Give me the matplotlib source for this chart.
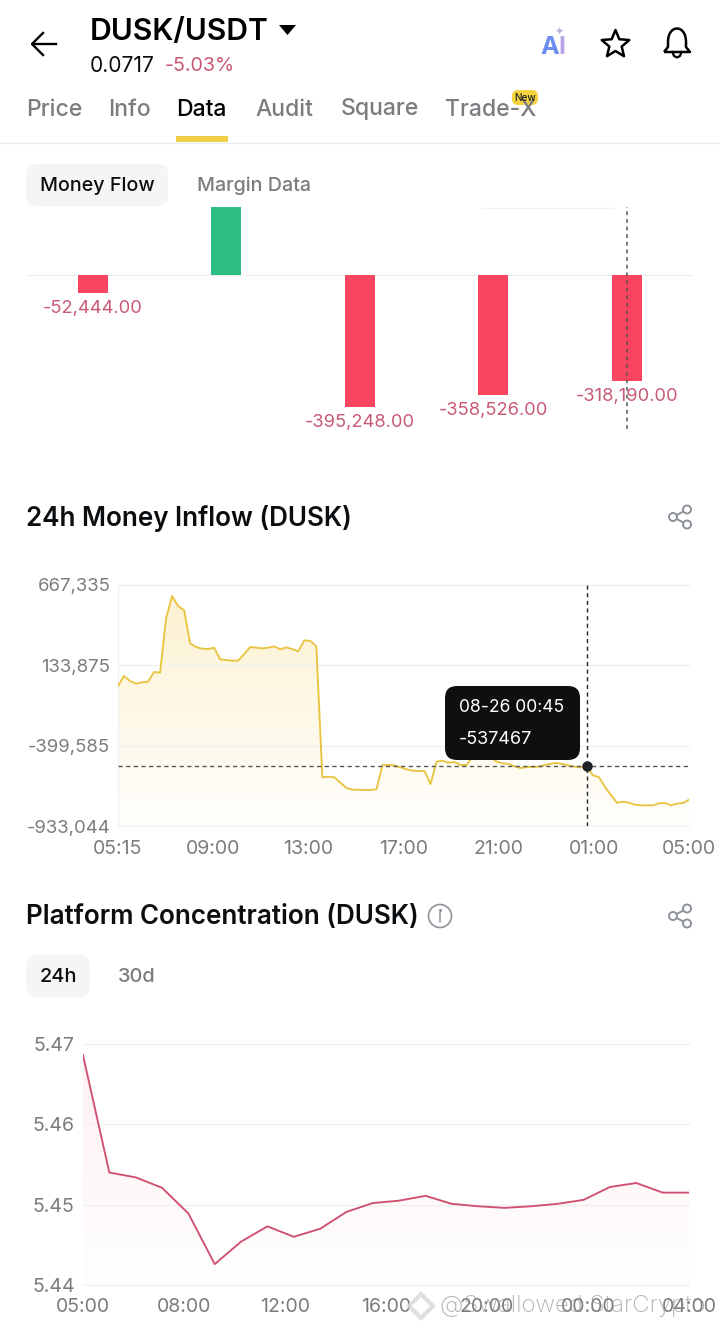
import matplotlib
matplotlib.use('Agg')
import numpy as np
import matplotlib.pyplot as plt
from matplotlib.patches import FancyBboxPatch, Circle, Polygon, PathPatch
from matplotlib.path import Path

plt.rcParams['font.family'] = ['Inter', 'DejaVu Sans']

W, H = 720, 1332

# money flow bars
flow_values = [-52444, 240000, -395248, -358526, -318190]
flow_labels = ['-52,444.00', None, '-395,248.00', '-358,526.00', '-318,190.00']

# 24h money inflow, thousands of DUSK, every 15 min
inflow_k = [
    -3.4, 63.0, 29.8, 12.1, 20.9, 25.4, 89.6, 85.1, 445.9, 594.2, 527.8, 499.1,
    279.9, 255.6, 244.5, 242.3, 251.2, 173.7, 169.3, 164.8, 164.8, 209.1, 255.6, 251.2,
    246.7, 251.2, 260.0, 240.1, 253.4, 242.3, 226.8, 299.9, 295.4, 260.0, -609.9, -605.5,
    -609.9, -645.3, -680.7, -691.8, -691.8, -694.0, -694.0, -689.6, -528.0, -528.0, -530.2, -543.5,
    -556.8, -565.6, -567.8, -567.8, -654.2, -505.9, -499.2, -512.5, -508.1, -528.0, -528.0, -472.7,
    -461.6, -461.6, -472.7, -505.9, -516.9, -521.4, -536.9, -547.9, -541.3, -541.3, -539.1, -528.0,
    -519.1, -514.7, -521.4, -532.4, -539.1, -543.5, -537.467, -596.6, -607.7, -671.9, -727.2, -778.1,
    -771.5, -778.1, -791.4, -795.8, -795.8, -795.8, -782.6, -780.3, -795.8, -784.8, -780.3, -758.2,
]
inflow_ticks = [667335, 133875, -399585, -933044]
inflow_ticklabels = ['667,335', '133,875', '-399,585', '-933,044']
inflow_xlabels = ['05:15', '09:00', '13:00', '17:00', '21:00', '01:00', '05:00']
selected_idx = 78

# platform concentration, hourly
conc_values = [
    5.4686, 5.4540, 5.4534, 5.4521, 5.4489, 5.4426, 5.4454, 5.4473, 5.4460, 5.4470, 5.4491, 5.4502,
    5.4505, 5.4511, 5.4501, 5.4498, 5.4496, 5.4498, 5.4501, 5.4506, 5.4522, 5.4527, 5.4515, 5.4515,
]
conc_ticks = [5.44, 5.45, 5.46, 5.47]
conc_xlabels = ['05:00', '08:00', '12:00', '16:00', '20:00', '00:00', '04:00']

GREY = '#7A7C80'
GRID = '#EFF0F2'
RED = '#F6465D'
LABEL_RED = '#C95A75'
YELLOW = '#E9C440'
INK = '#0B0E11'


def px(size):
    return size * 0.72


def axes_px(fig, left, top, right, bottom):
    return fig.add_axes([left / W, 1 - bottom / H, (right - left) / W, (bottom - top) / H])


def gradient_fill(ax, x, y, color, a_top, a_bottom):
    ymin, ymax = ax.get_ylim()
    rgba = np.zeros((256, 1, 4))
    rgba[:, 0, :3] = matplotlib.colors.to_rgb(color)
    rgba[:, 0, 3] = np.linspace(a_top, a_bottom, 256)
    im = ax.imshow(rgba, extent=[x[0], x[-1], ymin, ymax], origin='upper', aspect='auto', zorder=1)
    verts = [(x[0], ymin)] + list(zip(x, y)) + [(x[-1], ymin)]
    poly = Polygon(verts, closed=True, transform=ax.transData, fc='none', ec='none')
    ax.add_patch(poly)
    im.set_clip_path(poly)


fig = plt.figure(figsize=(W / 100, H / 100), dpi=100, facecolor='white')

# bars
ax1 = axes_px(fig, 26, 207, 693.5, 429)
ax1.axis('off')
ax1.set_xlim(-0.5, 4.5)
ax1.set_ylim(-460460, 203320)
flow_x = np.arange(len(flow_values))
flow_colors = ['#2EBD85' if v > 0 else '#F9455F' for v in flow_values]
ax1.axhline(0, color=GRID, lw=1, zorder=1)
ax1.bar(flow_x, flow_values, width=0.2247, color=flow_colors, zorder=2, clip_on=True)
ax1.axvline(4, color='#555555', lw=1.1, ls=(0, (2.5, 2.5)), zorder=3)
for i, lab in enumerate(flow_labels):
    if lab is None:
        continue
    ax1.annotate(lab, (i, flow_values[i]), xytext=(0, -15.5 * 0.72), textcoords='offset points',
                 ha='center', va='center', fontsize=px(18.3), color=LABEL_RED, zorder=4)

# inflow
inflow = np.array(inflow_k) * 1000
ax2 = axes_px(fig, 118, 585, 689, 826)
x2 = np.arange(len(inflow))
ax2.set_ylim(inflow_ticks[-1], inflow_ticks[0])
ax2.set_xlim(0, len(inflow) - 1)
gradient_fill(ax2, x2, inflow, '#F0B90B', 0.2, 0.015)
ax2.plot(x2, inflow, color=YELLOW, lw=1.35, zorder=3)
ax2.set_yticks(inflow_ticks, inflow_ticklabels)
ax2.set_xticks(np.linspace(0, len(inflow) - 1, 7), inflow_xlabels)
ax2.grid(axis='y', color=GRID, lw=1, zorder=0)
for line in ax2.get_ygridlines():
    line.set_clip_on(False)
ax2.tick_params(axis='both', length=0, labelcolor=GREY)
ax2.tick_params(axis='y', pad=5.5, labelsize=px(18.5))
ax2.tick_params(axis='x', pad=10, labelsize=px(19.5))
for side in ['top', 'right', 'bottom']:
    ax2.spines[side].set_visible(False)
ax2.spines['left'].set_color(GRID)
ax2.axvline(x2[selected_idx], color='#222222', lw=1, ls=(0, (3, 2.5)), zorder=4)
ax2.axhline(inflow[selected_idx], color='#555555', lw=1, ls=(0, (3, 2.5)), zorder=4)
ax2.plot(x2[selected_idx], inflow[selected_idx], 'o', ms=6.5, color='#1E2329', zorder=5)

# concentration
ax3 = axes_px(fig, 83, 1044, 689, 1285)
x3 = np.arange(len(conc_values))
ax3.set_ylim(conc_ticks[0], conc_ticks[-1])
ax3.set_xlim(0, len(conc_values) - 1)
gradient_fill(ax3, x3, conc_values, RED, 0.08, 0.008)
ax3.plot(x3, conc_values, color='#CF5070', lw=1.35, zorder=3)
ax3.set_yticks(conc_ticks, ['%.2f' % v for v in conc_ticks])
ax3.set_xticks(np.linspace(0, len(conc_values) - 1, 7), conc_xlabels)
ax3.grid(axis='y', color=GRID, lw=1, zorder=0)
for line in ax3.get_ygridlines():
    line.set_clip_on(False)
ax3.tick_params(axis='both', length=0, labelcolor=GREY, labelsize=px(19.5))
ax3.tick_params(axis='y', pad=6)
ax3.tick_params(axis='x', pad=9)
for side in ['top', 'right', 'bottom', 'left']:
    ax3.spines[side].set_visible(False)

# everything else sits on a pixel overlay
ui = fig.add_axes([0, 0, 1, 1], facecolor='none')
ui.set_xlim(0, W)
ui.set_ylim(H, 0)
ui.axis('off')


def label(x, y, s, size, color=INK, weight='normal', ha='left', **kw):
    # va center sits a bit high for this font
    ui.text(x, y + 4, s, fontsize=px(size), color=color, fontweight=weight, ha=ha, va='center', **kw)


def pill(x0, y0, x1, y1, color, r=10):
    ui.add_patch(FancyBboxPatch((x0 + r, y0 + r), x1 - x0 - 2 * r, y1 - y0 - 2 * r,
                                boxstyle='round,pad=%d,rounding_size=%d' % (r, r), fc=color, ec='none'))


def share_icon(cx, cy):
    pts = [(cx - 7, cy), (cx + 7, cy - 7.5), (cx + 7, cy + 7.5)]
    for p in pts[1:]:
        ui.plot([pts[0][0], p[0]], [pts[0][1], p[1]], color='#8E939B', lw=1.4)
    for p in pts:
        ui.add_patch(Circle(p, 4, fc='white', ec='#8E939B', lw=1.4, zorder=3))


# header
ui.plot([33, 56], [44, 44], color='black', lw=1.7)
ui.plot([43, 32, 43], [33, 44, 55], color='black', lw=1.7)
label(90, 28, 'DUSK/USDT', 30, color='black', weight='semibold')
ui.add_patch(Polygon([(279, 25), (296, 25), (287.5, 35)], fc='black', ec='none'))
label(90, 62, '0.0717', 21, color=INK)
label(165, 62, '-5.03%', 19.7, color=LABEL_RED)

label(540, 43, 'A', 25, color='#6E8CF0', weight='bold')
label(558, 43, 'I', 25, color='#B8A4E8', weight='bold')
ui.text(559, 32, '✦', fontsize=px(11), color='#C4B4DC', ha='center', va='center', family='DejaVu Sans')

ang = np.linspace(-np.pi / 2, 1.5 * np.pi, 11)[:-1]
rad = np.where(np.arange(10) % 2 == 0, 14.5, 6.5)
ui.add_patch(Polygon(np.c_[615.5 + rad * np.cos(ang), 44.5 + rad * np.sin(ang)], fc='white', ec='black',
                     lw=1.8, joinstyle='round'))

bell = Path([(664, 52), (668, 47), (668, 42), (668, 24), (686, 24), (686, 42), (686, 47), (690, 52), (664, 52)],
            [Path.MOVETO, Path.LINETO, Path.LINETO, Path.CURVE4, Path.CURVE4, Path.CURVE4, Path.LINETO, Path.LINETO,
             Path.LINETO])
ui.add_patch(PathPatch(bell, fc='none', ec='black', lw=1.8, joinstyle='round'))
ui.plot(np.array([672.5, 674, 677, 680, 681.5]), [52, 56, 57.5, 56, 52], color='black', lw=1.6)

# tabs
tabs = [('Price', 26), ('Info', 108), ('Data', 176), ('Audit', 255), ('Square', 341), ('Trade-X', 445)]
for name, x in tabs:
    if name == 'Data':
        label(x, 105.5, name, 23, color='black', weight='medium')
    else:
        label(x, 105.5, name, 23, color=GREY, weight='medium')
ui.plot([0, W], [142.5, 142.5], color='#EAECEF', lw=1)
ui.add_patch(plt.Rectangle((176, 136), 52, 6, fc='#F0CE45', ec='none'))
pill(512, 90, 538, 105, '#F5D33F', r=6)
label(525, 94, 'New', 10, color='#222222', ha='center', weight='medium')

pill(26, 164, 168, 206, '#F5F5F5')
label(40, 182, 'Money Flow', 19.7, color=INK, weight='medium')
label(197, 182, 'Margin Data', 19.7, color=GREY, weight='medium')
ui.plot([481, 614], [207.5, 207.5], color='#F1F1F1', lw=1)

# section headings
label(26, 514, '24h Money Inflow (DUSK)', 26, color=INK, weight='semibold')
share_icon(680, 517)
label(26, 913, 'Platform Concentration (DUSK)', 26, color=INK, weight='semibold')
ui.add_patch(Circle((440, 916), 11.5, fc='white', ec='#8E939B', lw=1.2))
ui.plot([440, 440], [913, 922], color='#8E939B', lw=1.1)
ui.plot([440], [910], '.', ms=2.5, color='#8E939B')
share_icon(680, 916)
pill(26, 955, 90, 997, '#F5F5F5')
label(40, 973, '24h', 20, color=INK, weight='medium')
label(118, 973, '30d', 20, color=GREY, weight='medium')

# tooltip
pill(445, 686, 580, 760, '#0F0F0F', r=12)
label(459, 704, '08-26 00:45', 17.5, color='white')
label(459, 736, '-537467', 18, color='white')

# watermark
ui.add_patch(Polygon([(421, 1294), (433, 1306), (421, 1318), (409, 1306)], fc='none', ec='#D8D8D8', lw=3, alpha=0.8))
label(440, 1302, '@Swallowed StarCrypto', 24, color='#8A8A8A', alpha=0.65, weight='light')

fig.savefig('out.png', dpi=100, facecolor='white')
